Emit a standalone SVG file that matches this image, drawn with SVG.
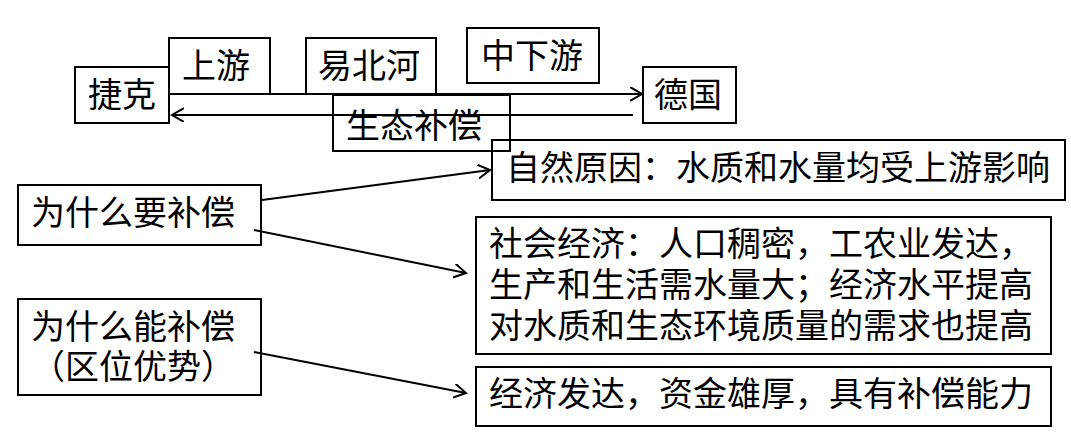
<svg xmlns="http://www.w3.org/2000/svg" width="1071" height="435" viewBox="0 0 1071 435">
<style>
.box{fill:none;stroke:#000;stroke-width:2}
.t{font-family:"Noto Sans CJK SC","Noto Sans",sans-serif;font-size:34px;fill:#000}
.c{text-anchor:middle}
.ln{fill:none;stroke:#000;stroke-width:2;marker-end:url(#ah)}
</style>
<defs>
<marker id="ah" markerUnits="userSpaceOnUse" markerWidth="16" markerHeight="16" refX="12" refY="7" orient="auto">
<path d="M0,0 L12,7 L0,14" fill="none" stroke="#000" stroke-width="2"/>
</marker>
</defs>
<rect width="1071" height="435" fill="#fff"/>
<g id="connectors">
<line class="ln" x1="169" y1="94" x2="642" y2="94"/>
<line class="ln" x1="633" y1="115" x2="172" y2="115"/>
<line class="ln" x1="262" y1="200" x2="490" y2="170"/>
<line class="ln" x1="254" y1="230" x2="466" y2="273"/>
<line class="ln" x1="254" y1="352" x2="466" y2="393"/>
</g>
<g id="jieke"><rect class="box" x="75" y="67" width="94" height="56"/><text class="t c" x="122" y="107">捷克</text></g>
<g id="shangyou"><rect class="box" x="169" y="38" width="101" height="56"/><text class="t c" x="216" y="78">上游</text></g>
<g id="yibeihe"><rect class="box" x="306" y="38" width="130" height="56"/><text class="t c" x="369" y="78">易北河</text></g>
<g id="zhongxiayou"><rect class="box" x="467" y="28" width="132" height="55"/><text class="t c" x="532" y="68">中下游</text></g>
<g id="deguo"><rect class="box" x="643" y="67" width="93" height="56"/><text class="t c" x="688" y="107">德国</text></g>
<g id="shengtai"><rect class="box" x="333" y="95" width="177" height="56"/><text class="t c" x="414" y="138">生态补偿</text></g>
<g id="ziran"><rect class="box" x="492" y="140" width="573" height="60"/><text class="t" x="506" y="180">自然原因：水质和水量均受上游影响</text></g>
<g id="shehui"><rect class="box" x="476" y="217" width="575" height="137"/>
<text class="t" x="489" y="256">社会经济：人口稠密，工农业发达，</text>
<text class="t" x="489" y="297">生产和生活需水量大；经济水平提高</text>
<text class="t" x="489" y="338">对水质和生态环境质量的需求也提高</text></g>
<g id="jingji"><rect class="box" x="476" y="367" width="575" height="59"/><text class="t" x="489" y="406">经济发达，资金雄厚，具有补偿能力</text></g>
<g id="weishenmeyao"><rect class="box" x="18" y="185" width="243" height="60"/><text class="t" x="31" y="225">为什么要补偿</text></g>
<g id="weishenmeneng"><rect class="box" x="18" y="299" width="243" height="96"/><text class="t" x="31" y="339">为什么能补偿</text><text class="t" x="31" y="379">（区位优势）</text></g>
</svg>
